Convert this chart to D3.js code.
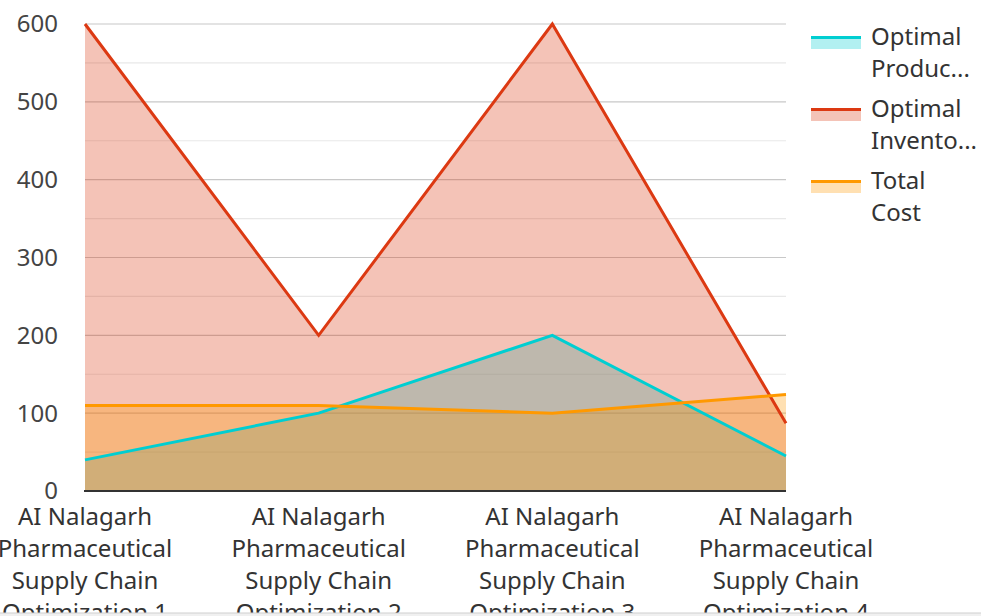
<!DOCTYPE html>
<html><head><meta charset="utf-8">
<script src="https://cdn.jsdelivr.net/npm/d3@7"></script>
<style>
html,body{margin:0;padding:0;background:#fff;overflow:hidden;}
svg{display:block;font-family:"Noto Sans","Open Sans",sans-serif;}
</style></head>
<body>
<svg id="chart" width="981" height="616"></svg>
<script>
const categories = [
  "AI Nalagarh Pharmaceutical Supply Chain Optimization 1",
  "AI Nalagarh Pharmaceutical Supply Chain Optimization 2",
  "AI Nalagarh Pharmaceutical Supply Chain Optimization 3",
  "AI Nalagarh Pharmaceutical Supply Chain Optimization 4"
];
const categoryLines = [
  ["AI Nalagarh","Pharmaceutical","Supply Chain","Optimization 1"],
  ["AI Nalagarh","Pharmaceutical","Supply Chain","Optimization 2"],
  ["AI Nalagarh","Pharmaceutical","Supply Chain","Optimization 3"],
  ["AI Nalagarh","Pharmaceutical","Supply Chain","Optimization 4"]
];
const seriesNames = ["Optimal Production", "Optimal Inventory", "Total Cost"];
const legendLabels = [["Optimal","Produc..."],["Optimal","Invento..."],["Total","Cost"]];
const optimalProduction = [40, 100, 200, 45];
const optimalInventory = [600, 200, 600, 87];
const totalCost = [110, 110, 100, 124];
const yTicks = [0, 100, 200, 300, 400, 500, 600];
const yMinorTicks = [50, 150, 250, 350, 450, 550];

(function () {
const colors = ["#00CED1", "#DC3912", "#FF9900"];
const series = [optimalProduction, optimalInventory, totalCost];

const svg = d3.select("#chart");
const mLeft = 85, mRight = 786, mTop = 24, mBottom = 491;
const x = d3.scalePoint().domain(categories).range([mLeft, mRight]).padding(0);
const y = d3.scaleLinear().domain([0, 600]).range([mBottom, mTop]);

// grid
svg.append("g").selectAll("line").data(yMinorTicks).join("line")
  .attr("x1", mLeft).attr("x2", mRight)
  .attr("y1", d => y(d)).attr("y2", d => y(d))
  .attr("stroke", "#e8e8e8").attr("stroke-width", 1.2);
svg.append("g").selectAll("line").data(yTicks.filter(d => d > 0)).join("line")
  .attr("x1", mLeft).attr("x2", mRight)
  .attr("y1", d => y(d)).attr("y2", d => y(d))
  .attr("stroke", "#c8c8c8").attr("stroke-width", 1.2);

// areas
const area = d3.area().x((d, i) => x(categories[i])).y0(y(0)).y1(d => y(d));
const line = d3.line().x((d, i) => x(categories[i])).y(d => y(d));
series.forEach((s, k) => {
  svg.append("path").datum(s).attr("d", area)
    .attr("fill", colors[k]).attr("fill-opacity", 0.3);
});
series.forEach((s, k) => {
  svg.append("path").datum(s).attr("d", line)
    .attr("fill", "none").attr("stroke", colors[k]).attr("stroke-width", 3)
    .attr("stroke-linejoin", "miter");
});

// x axis line
svg.append("line").attr("x1", mLeft - 1).attr("x2", mRight).attr("y1", mBottom).attr("y2", mBottom)
  .attr("stroke", "#333").attr("stroke-width", 2);

// y labels
svg.append("g").selectAll("text").data(yTicks).join("text")
  .attr("x", 58).attr("y", d => y(d)).attr("dy", "0.35em")
  .attr("text-anchor", "end").attr("font-size", 24).attr("fill", "#444")
  .text(d => d);

// x labels
categories.forEach((c, i) => {
  const t = svg.append("text").attr("text-anchor", "middle")
    .attr("font-size", 24).attr("fill", "#333");
  categoryLines[i].forEach((ln, j) => {
    t.append("tspan").attr("x", x(c)).attr("y", 525 + j * 32).text(ln);
  });
});

// legend
const lg = svg.append("g");
legendLabels.forEach((lab, k) => {
  const gy = 36 + k * 72;
  lg.append("rect").attr("x", 811).attr("y", gy).attr("width", 50).attr("height", 13)
    .attr("fill", colors[k]).attr("fill-opacity", 0.3);
  lg.append("rect").attr("x", 811).attr("y", gy).attr("width", 50).attr("height", 3)
    .attr("fill", colors[k]);
  const t = lg.append("text").attr("font-size", 24).attr("fill", "#333");
  lab.forEach((ln, j) => {
    t.append("tspan").attr("x", 871).attr("y", gy + 9 + j * 32).text(ln);
  });
});

// bottom border
svg.append("rect").attr("x", 0).attr("y", 613).attr("width", 981).attr("height", 3).attr("fill", "#f0f0f0");
svg.append("line").attr("x1", 0).attr("x2", 981).attr("y1", 613).attr("y2", 613).attr("stroke", "#cfcfcf");
})();
</script>
</body></html>
